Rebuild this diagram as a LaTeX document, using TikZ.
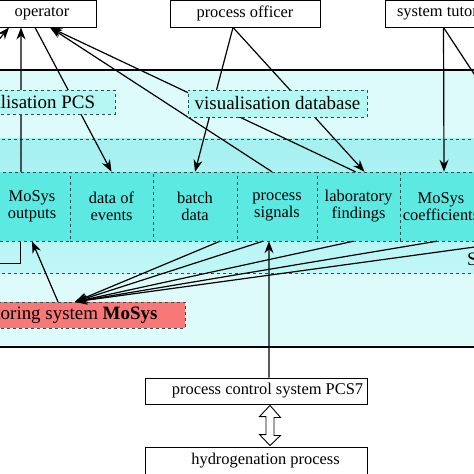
\documentclass[tikz,border=0pt]{standalone}
\usepackage{fontspec}
\setmainfont{Liberation Serif}
\usetikzlibrary{arrows.meta,calc}
\definecolor{outerc}{RGB}{222,251,251}
\definecolor{bandtop}{RGB}{166,240,240}
\definecolor{bandbot}{RGB}{192,247,247}
\definecolor{datac}{RGB}{92,233,225}
\definecolor{visc}{RGB}{180,247,243}
\definecolor{mosc}{RGB}{248,120,120}
\definecolor{dashc}{RGB}{45,80,80}
\tikzset{
  box/.style={draw, fill=white, line width=.9bp, inner sep=0pt, minimum height=27bp},
  databox/.style={draw=dashc, dashed, fill=datac, align=center, inner sep=0pt, minimum height=69bp},
  visbox/.style={draw=dashc, dashed, fill=visc, inner sep=0pt, font=\fontsize{19}{21}\selectfont},
  conn/.style={line width=1.2bp, ->},
}
\begin{document}
\begin{tikzpicture}[x=1bp, y=-1bp, >={Stealth[length=12bp,width=9bp]}, font=\fontsize{16.5}{17}\selectfont]
\useasboundingbox (0,0) rectangle (474,474);
\clip (0,0) rectangle (474,474);
% frame with the bands
\fill[outerc] (-10,70) rectangle (484,347);
\shade[top color=bandtop, bottom color=bandbot] (-10,139) rectangle (484,273);
\draw[dashed, dashc] (-10,139) -- (484,139) (-10,273) -- (484,273);
\draw[line width=1.6bp] (-10,70) rectangle (484,347);
\draw[line width=1bp] (-20,200) rectangle (20,263);
% people
\node[box, minimum width=108bp] (op) at (42,13.5) {operator};
\node[box, minimum width=150bp] (off) at (245,13.5) {process officer};
\node[box, minimum width=105bp] (tut) at (437.5,13.5) {system tutor};
% data
\foreach \n/\x/\w/\t in {outs/32/76/{MoSys\\outputs}, events/111.5/83/{data of\\events}, batch/195/84/{batch\\data}, sig/277/80/{process\\signals}, lab/358.5/83/{laboratory\\findings}, coef/441/82/{MoSys\\coefficients}}
  \node[databox, minimum width=\w bp] (\n) at (\x,206.5) {\t};
\node[visbox, fill=mosc, minimum width=256bp, minimum height=26bp] (mos) at (57,315) {monitoring system \textbf{MoSys}};
\node[box, minimum width=222bp, minimum height=26bp, label={[xshift=11.5bp]center:process control system PCS7}] (pcs) at (256,391) {};
\node[box, minimum width=222bp, minimum height=28bp, label={[xshift=9.5bp]center:hydrogenation process}] (hyd) at (256,461) {};
\coordinate (inL) at (-8,48);
\coordinate (outR) at (482,86);
\coordinate (inR) at (482,246);
% connectors
\draw[conn] ([xshift=-11bp]outs.north) -- ([xshift=-21bp]op.south);
\draw[conn] ([xshift=-7bp]op.south) -- (events.north);
\draw[conn] ([xshift=-5bp]sig.north) -- ([xshift=8bp]op.south);
\draw[conn] ([xshift=-3bp]lab.north) -- ([xshift=8bp]op.south);
\draw[conn] ([xshift=-12bp]off.south) -- (batch.north);
\draw[conn] ([xshift=-12bp]off.south) -- ([xshift=6bp]lab.north);
\draw[conn] ([xshift=6bp]tut.south) -- ([xshift=3bp]coef.north);
\draw[line width=1.2bp] ([xshift=6bp]tut.south) -- (outR);
\draw[conn] (inL) -- ([xshift=-33bp]op.south);
\draw[conn] ([xshift=1bp]mos.north) -- (outs.south);
\draw[conn] ([xshift=25bp]batch.south) -- ([xshift=18bp]mos.north);
\draw[conn] ([xshift=-14bp]sig.south) -- ([xshift=18bp]mos.north);
\draw[conn] ([xshift=-5bp]lab.south) -- ([xshift=18bp]mos.north);
\draw[conn] ([xshift=-4bp]coef.south) -- ([xshift=18bp]mos.north);
\draw[conn] (inR) -- ([xshift=18bp]mos.north);
\draw[conn] ([xshift=13bp]pcs.north) -- ([xshift=-8bp]sig.south);
% visualisation on top of the lines
\node[visbox, minimum width=174bp, minimum height=24bp] (vpcs) at (28,102) {visualisation PCS};
\node[visbox, minimum width=179bp, minimum height=27bp] (vdb) at (277.5,103.5) {visualisation database};
\node[anchor=base west, inner sep=0pt, font=\fontsize{19}{21}\selectfont] (srv) at (467,265) {S};
% double arrow
\draw[line width=.9bp, fill=white] ($(pcs.south)+(14,1)$) -- ++(10.5,12) -- ++(-6.5,0) -- ++(0,18) -- ++(6.5,0) -- ($(hyd.north)+(14,-1)$) -- ++(-10.5,-11) -- ++(6.5,0) -- ++(0,-18) -- ++(-6.5,0) -- cycle;
\end{tikzpicture}
\end{document}
